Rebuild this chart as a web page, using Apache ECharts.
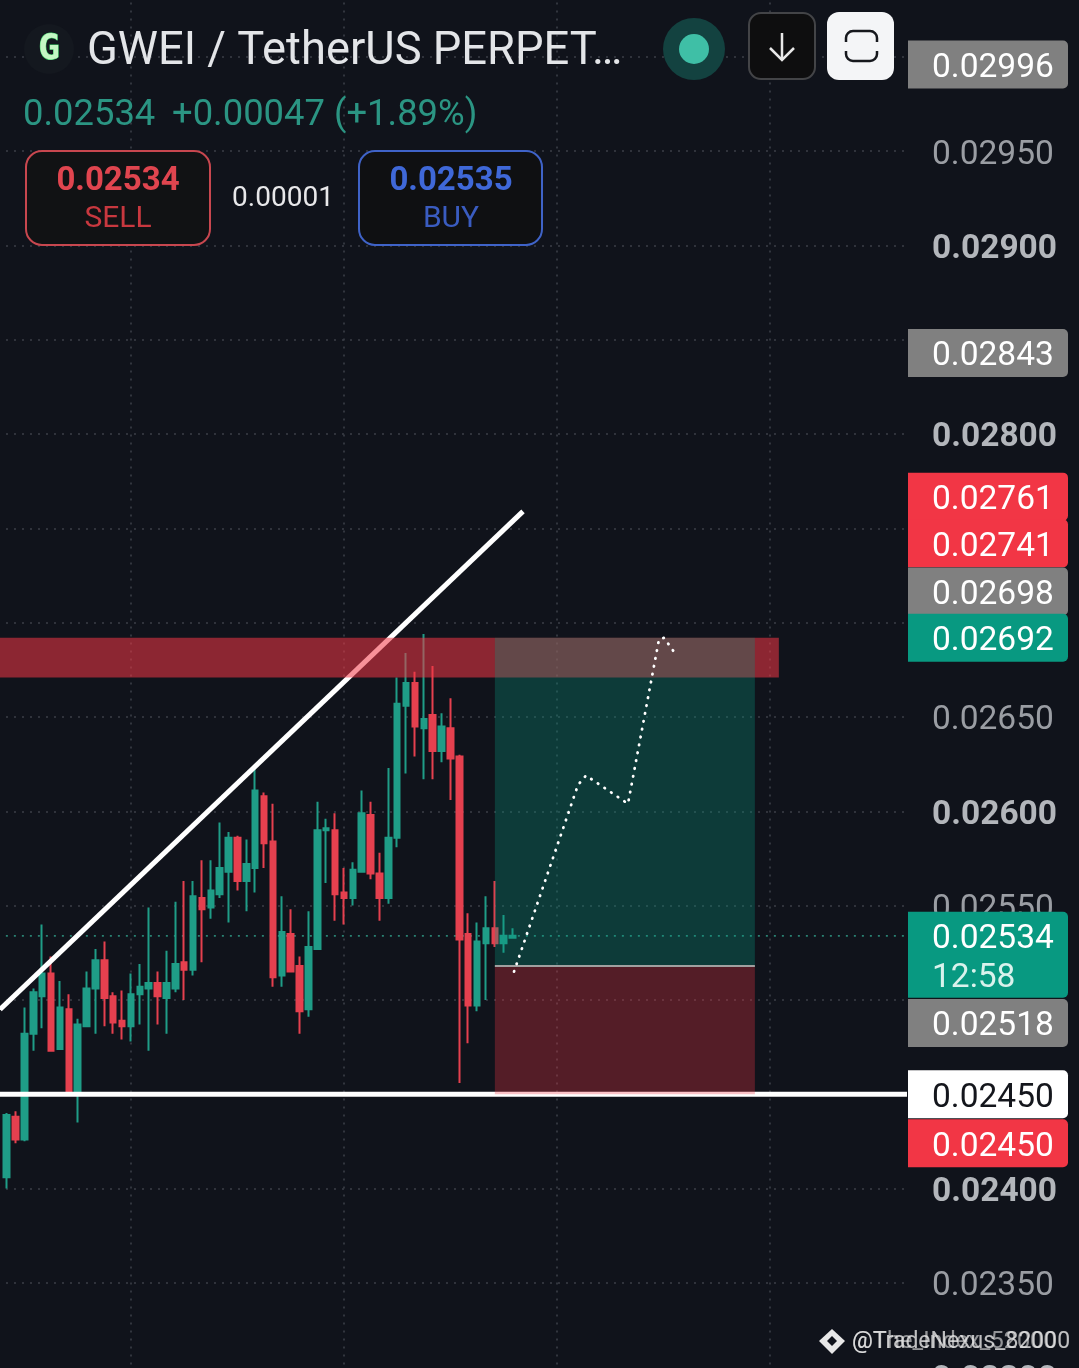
<!DOCTYPE html>
<html><head><meta charset="utf-8">
<style>html,body{margin:0;padding:0;background:#10131b}#c{width:1079px;height:1368px}</style>
<script src="https://cdn.jsdelivr.net/npm/echarts@6/dist/echarts.min.js"></script>
</head><body><div id="c"></div>
<script>
const firstBar = 10;
const opens  = [0.02406,0.02438,0.02426,0.02482,0.02502,0.02514,0.02474,0.02495,0.02451,0.02486,0.02506,0.02521,0.02502,0.02489,0.02486,0.02503,0.02506,0.02509,0.02501,0.02506,0.02520,0.02516,0.02554,0.02549,0.02556,0.02568,0.02586,0.02563,0.02570,0.02608,0.02584,0.02513,0.02535,0.02518,0.02495,0.02527,0.02590,0.02590,0.02557,0.02554,0.02568,0.02598,0.02567,0.02554,0.02586,0.02656,0.02668,0.02644,0.02651,0.02632,0.02644,0.02629,0.02535,0.02497,0.02530,0.02538,0.02530,0.02533];
const closes = [0.02439,0.02426,0.02482,0.02504,0.02514,0.02473,0.02496,0.02451,0.02487,0.02506,0.02521,0.02501,0.02488,0.02486,0.02503,0.02507,0.02509,0.02502,0.02509,0.02519,0.02516,0.02555,0.02548,0.02558,0.02570,0.02586,0.02563,0.02572,0.02611,0.02583,0.02512,0.02536,0.02515,0.02494,0.02528,0.02590,0.02591,0.02556,0.02554,0.02569,0.02599,0.02567,0.02554,0.02586,0.02657,0.02668,0.02645,0.02649,0.02632,0.02645,0.02628,0.02532,0.02497,0.02531,0.02538,0.02530,0.02534,0.02534];
const lows   = [0.02400,0.02424,0.02425,0.02473,0.02485,0.02473,0.02474,0.02449,0.02435,0.02486,0.02482,0.02486,0.02482,0.02479,0.02478,0.02487,0.02473,0.02487,0.02482,0.02504,0.02500,0.02513,0.02520,0.02543,0.02554,0.02541,0.02558,0.02547,0.02557,0.02570,0.02507,0.02507,0.02515,0.02482,0.02491,0.02527,0.02562,0.02542,0.02540,0.02550,0.02568,0.02564,0.02542,0.02551,0.02581,0.02620,0.02629,0.02617,0.02617,0.02626,0.02606,0.02456,0.02477,0.02494,0.02500,0.02528,0.02525,0.02533];
const highs  = [0.02440,0.02441,0.02496,0.02506,0.02540,0.02523,0.02510,0.02503,0.02490,0.02515,0.02527,0.02531,0.02504,0.02505,0.02514,0.02519,0.02549,0.02515,0.02526,0.02552,0.02563,0.02563,0.02574,0.02574,0.02594,0.02589,0.02587,0.02585,0.02623,0.02610,0.02604,0.02555,0.02548,0.02523,0.02547,0.02605,0.02596,0.02599,0.02570,0.02573,0.02611,0.02605,0.02578,0.02623,0.02671,0.02684,0.02674,0.02694,0.02677,0.02652,0.02660,0.02630,0.02546,0.02541,0.02555,0.02563,0.02545,0.02538];

const trendX = [9.24, 68.17];
const trendY = [0.02495, 0.02759];
const pathX = [67.16,74.37,75.27,80.0,83.49,84.06,85.41];
const pathY = [0.02515,0.02614,0.02619,0.02604,0.02691,0.02692,0.02683];
const supportPrice = 0.0245, lastPrice = 0.02534;
const bandLow = 0.02671, bandHigh = 0.02692, bandFrom = 9.24, bandTo = 97;
const posFrom = 65, posTo = 94.3, posTarget = 0.02692, posEntry = 0.02518, posStop = 0.0245;

const tagPrices = [0.02996,0.02843,0.02761,0.02741,0.02698,0.02692,0.02518,0.02534,0.0245,0.0245];
const tagShift  = [0,0,-11,-2,-35,0,57,0,0,49];
const tagFill   = ['#808080','#808080','#f23645','#f23645','#808080','#089981','#808080','#089981','#ffffff','#f23645'];
const coveredTicks = ['0.02850','0.02500'];

const GREEN='#1f9d87', RED='#e5404f', GRID='#3b3f48', FONT='Roboto';
const rows = opens.map((o,i)=>[firstBar+i,o,closes[i],lows[i],highs[i]]);
const xy = (xs,ys)=>xs.map((x,i)=>[x,ys[i]]);

function zoneItem(color){
  return function(p,api){
    const a=api.coord([api.value(0),api.value(3)]), b=api.coord([api.value(1),api.value(2)]);
    return {type:'rect',shape:{x:a[0],y:a[1],width:b[0]-a[0],height:b[1]-a[1]},style:{fill:color[p.dataIndex]}};
  };
}
function tagItem(p,api){
  const i=p.dataIndex, cy=api.coord([0,api.value(0)])[1]+tagShift[i];
  const two=tagPrices[i]===lastPrice, white=tagFill[i]==='#ffffff';
  const top=cy-24, h=two?86:48;
  const ink=white?'#14161c':'#ffffff';
  const kids=[
    {type:'rect',shape:{x:908,y:top,width:160,height:h,r:[0,5,5,0]},style:{fill:tagFill[i]}},
    {type:'text',style:{text:api.value(0).toFixed(5),x:932,y:cy+4,fill:ink,font:'33.5px '+FONT,verticalAlign:'middle'}}
  ];
  if(two)kids.push({type:'text',style:{text:'12:58',x:932,y:cy+43,fill:'#d9f2ec',font:'33.5px '+FONT,verticalAlign:'middle'}});
  return {type:'group',children:kids};
}

const txt=(t,x,y,fill,font,align)=>({type:'text',z:100,style:{text:t,x,y,fill,font,align:align||'left',verticalAlign:'middle'}});
const box=(x,y,w,h,r,fill,stroke,lw)=>({type:'rect',z:99,shape:{x,y,width:w,height:h,r},style:{fill,stroke:stroke||null,lineWidth:lw||0}});
const graphics=[
  {type:'circle',z:99,shape:{cx:49,cy:49,r:25},style:{fill:'#14181f'}},
  {type:'text',z:100,style:{text:'G',x:49,y:50,fill:'#c4f7c4',stroke:'#3ed66a',lineWidth:1,font:'bold 36px "DejaVu Sans Mono"',align:'center',verticalAlign:'middle'}},
  txt('GWEI / TetherUS PERPET…',87,53,'#e3e5e8','45.3px '+FONT),
  txt('0.02534',23,116,'#2b9583','36.4px '+FONT),
  txt('+0.00047 (+1.89%)',172,116,'#2b9583','36.4px '+FONT),
  box(26,151,184,94,16,'#111214','#c8474f',2),
  txt('0.02534',118,182,'#e0454f','bold 33px '+FONT,'center'),
  txt('SELL',118,219,'#c8383f','30px '+FONT,'center'),
  txt('0.00001',283,199,'#e8e8ea','28px '+FONT,'center'),
  box(359,151,183,94,16,'#0f1012','#3f63c8',2),
  txt('0.02535',451,182,'#3f68d8','bold 33px '+FONT,'center'),
  txt('BUY',451,219,'#3a5cc0','30px '+FONT,'center'),
  {type:'circle',z:99,shape:{cx:694,cy:49,r:31},style:{fill:'#134240'}},
  {type:'circle',z:100,shape:{cx:694,cy:49,r:15},style:{fill:'#3fbfa6'}},
  box(749,13,66,66,12,'#0e0e0f','#434447',2),
  {type:'polyline',z:100,shape:{points:[[782,33],[782,60]]},style:{stroke:'#e8e8e8',lineWidth:2.5,fill:null}},
  {type:'polyline',z:100,shape:{points:[[770,48],[782,60],[794,48]]},style:{stroke:'#e8e8e8',lineWidth:2.5,fill:null}},
  box(827,12,67,68,12,'#f4f5f7'),
  {type:'rect',z:100,shape:{x:846,y:31,width:31,height:30,r:7},style:{fill:null,stroke:'#16181d',lineWidth:2.5}},
  {type:'rect',z:101,shape:{x:843,y:42,width:37,height:9},style:{fill:'#f4f5f7'}},
  {type:'polygon',z:100,shape:{points:[[832,1329],[845,1341],[832,1354],[819,1341]]},style:{fill:'#e8e8e8'}},
  {type:'polygon',z:101,shape:{points:[[832,1336],[837,1341],[832,1346],[827,1341]]},style:{fill:'#10131b'}},
  txt('@TradeNexus_82000',852,1342,'rgba(235,235,235,.8)','23px '+FONT),
  txt('@The_Index_52000',852,1342,'rgba(235,235,235,.6)','23.5px '+FONT)
];

const chart=echarts.init(document.getElementById('c'),null,{renderer:'canvas'});
chart.setOption({
  animation:false,backgroundColor:'#10131b',
  grid:{left:-82,top:-37.4,width:989,height:1414.5,containLabel:false,outerBoundsMode:'none'},
  xAxis:{type:'value',min:0,max:111.44,interval:24,
    axisLine:{show:false},axisTick:{show:false},axisLabel:{show:false},
    splitLine:{show:true,showMinLine:false,showMaxLine:false,lineStyle:{color:GRID,width:1.6,type:[2,6]}}},
  yAxis:{type:'value',position:'right',min:0.023,max:0.0305,interval:0.0005,scale:true,
    axisLine:{show:false},axisTick:{show:false},
    axisLabel:{margin:25,align:'left',hideOverlap:false,
      formatter:v=>{const s=v.toFixed(5);if(coveredTicks.includes(s))return '';return Math.round(v*1e5)%100===0?'{b|'+s+'}':'{r|'+s+'}';},
      rich:{r:{fontSize:33.5,fontFamily:FONT,color:'#9a9da3',padding:[8,0,0,0]},b:{fontSize:33.5,fontFamily:FONT,fontWeight:'bold',color:'#b3b6bb',padding:[8,0,0,0]}}},
    splitLine:{show:true,lineStyle:{color:GRID,width:1.6,type:[2,6]}}},
  series:[
    {type:'line',z:1,silent:true,symbol:'none',data:[[9,lastPrice],[111.44,lastPrice]],lineStyle:{color:'#2a8273',width:1.8,type:[2,6]}},
    {type:'candlestick',z:2,barWidth:6,data:rows,encode:{x:0,y:[1,2,3,4]},
      itemStyle:{color:GREEN,color0:RED,borderColor:GREEN,borderColor0:RED,borderWidth:2}},
    {type:'line',z:3,symbol:'none',data:xy(trendX,trendY),lineStyle:{color:'#ffffff',width:5}},
    {type:'line',z:3,symbol:'none',data:[[9,supportPrice],[111.44,supportPrice]],lineStyle:{color:'#ffffff',width:5}},
    {type:'custom',z:4,renderItem:zoneItem(['rgba(242,54,69,.55)']),data:[[bandFrom,bandTo,bandLow,bandHigh]]},
    {type:'custom',z:5,renderItem:zoneItem(['rgba(8,153,129,.3)','rgba(242,54,69,.3)']),
      data:[[posFrom,posTo,posEntry,posTarget],[posFrom,posTo,posStop,posEntry]]},
    {type:'line',z:6,symbol:'none',data:[[posFrom,posEntry],[posTo,posEntry]],lineStyle:{color:'#a0a0a0',width:2}},
    {type:'line',z:7,symbol:'none',data:xy(pathX,pathY),lineStyle:{color:'#ffffff',width:2.8,cap:'round',type:[0.5,7.5]}},
    {type:'custom',z:20,renderItem:tagItem,clip:false,data:tagPrices.map(p=>[p]),encode:{y:0}}
  ],
  graphic:{elements:graphics}
});
</script></body></html>
